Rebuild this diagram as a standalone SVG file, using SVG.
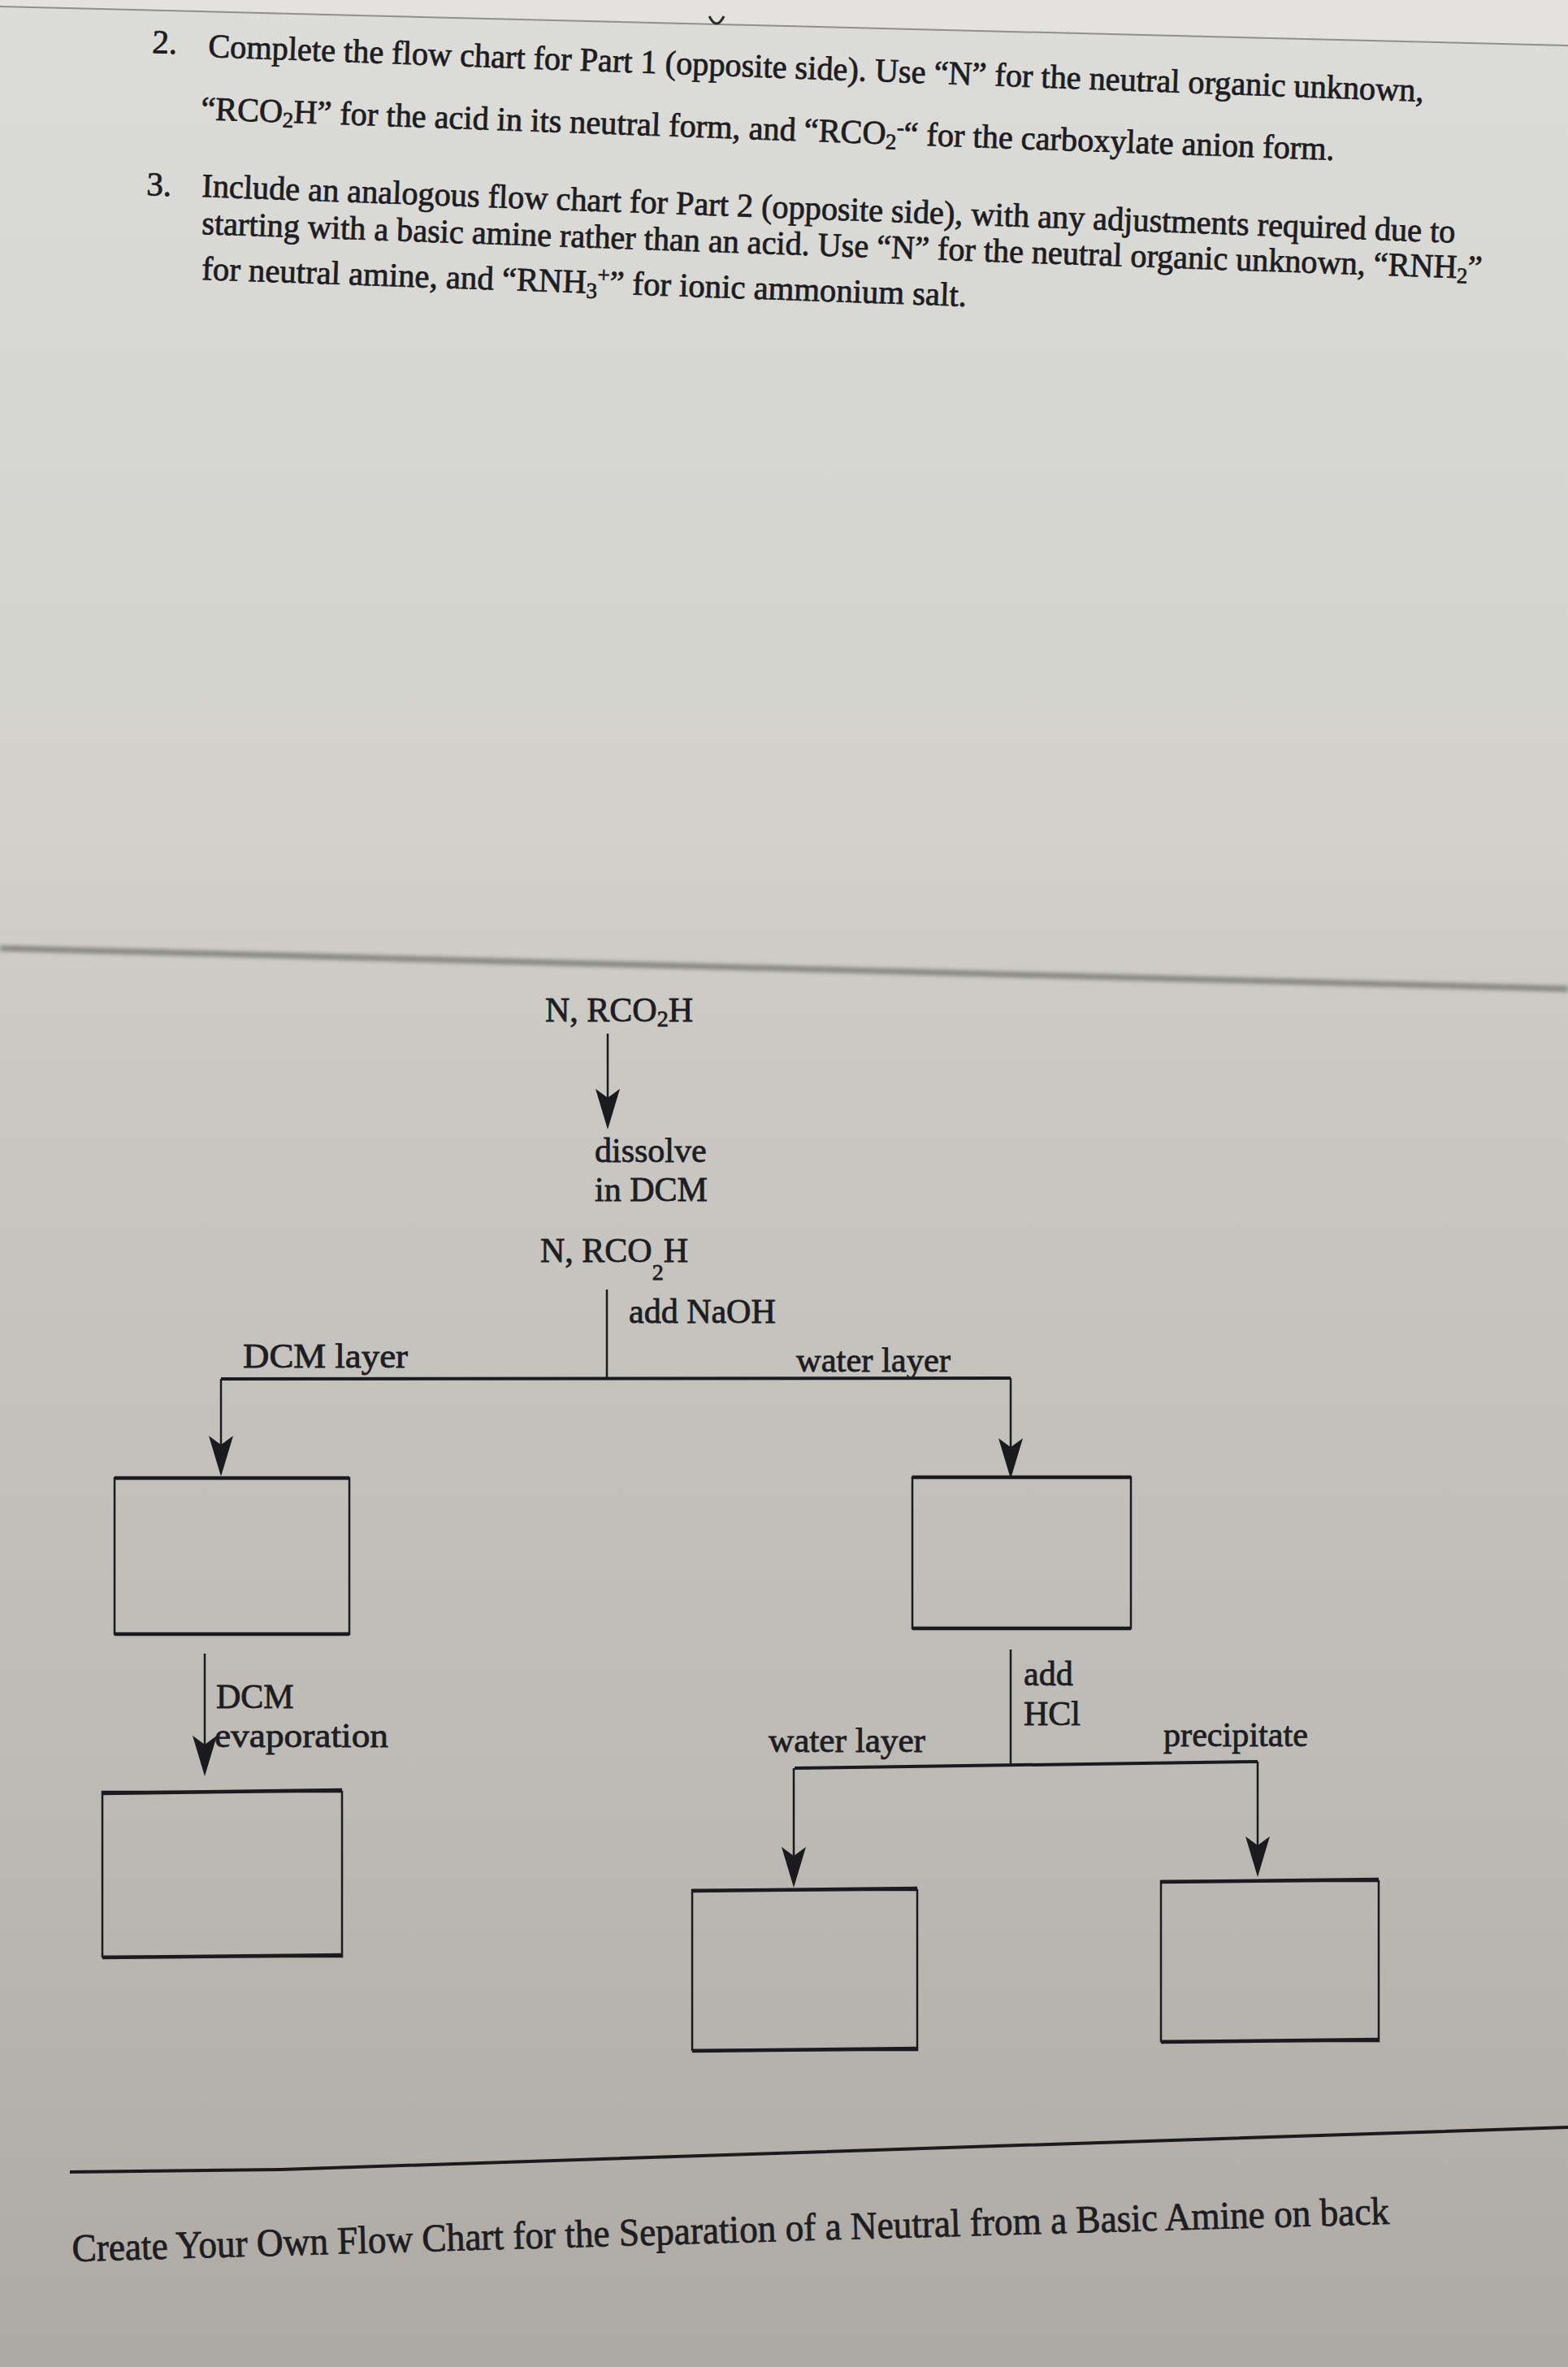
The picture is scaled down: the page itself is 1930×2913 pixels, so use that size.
<svg xmlns="http://www.w3.org/2000/svg" width="1930" height="2913" viewBox="0 0 1930 2913">
  <defs>
    <linearGradient id="paper" x1="0" y1="0" x2="0" y2="1">
      <stop offset="0" stop-color="#dcdcd8"/>
      <stop offset="0.35" stop-color="#d2d1cc"/>
      <stop offset="0.45" stop-color="#c9c8c3"/>
      <stop offset="0.75" stop-color="#bdbbb5"/>
      <stop offset="1" stop-color="#adaaa3"/>
    </linearGradient>
    <filter id="blur" x="-5%" y="-200%" width="110%" height="500%">
      <feGaussianBlur stdDeviation="2.5"/>
    </filter>
    <marker id="ah" viewBox="0 0 50 30" refX="30" refY="15" markerWidth="50" markerHeight="30" markerUnits="userSpaceOnUse" orient="auto">
      <path d="M0,0 L50,15 L0,30 L11,15 Z" fill="#1b1b1f"/>
    </marker>
    <style>
      .t { font-family: "Liberation Serif", "Times New Roman", serif; fill: #1d1d22; stroke: #1d1d22; stroke-width: 0.8; }
      .top { font-size: 41px; }
      .lbl { font-size: 42px; }
      .bot { font-size: 48px; }
      .box { fill: none; stroke: #1b1b1f; stroke-width: 2.5; }
      .edge { fill: none; stroke: #1b1b1f; stroke-width: 4.5; }
      .conn { fill: none; stroke: #1b1b1f; stroke-width: 2.5; }
      .bar { fill: none; stroke: #1b1b1f; stroke-width: 4; }
    </style>
  </defs>

  <!-- paper -->
  <rect x="0" y="0" width="1930" height="2913" fill="url(#paper)"/>
  <polygon points="0,0 1930,0 1930,56 0,8" fill="#e3e2df"/>
  <line x1="0" y1="8" x2="1930" y2="56" stroke="#8f8f8c" stroke-width="2"/>
  <path d="M873,20 Q882,38 891,20" fill="none" stroke="#2a2a2e" stroke-width="3"/>
  <path d="M0,1167 L1930,1217" stroke="#85847f" stroke-width="7" fill="none" filter="url(#blur)"/>

  <!-- instructions -->
  <g id="instructions">
    <text class="t top" x="187" y="65" transform="rotate(2.1 187 65)">2.</text>
    <text class="t top" x="256" y="70" transform="rotate(2.1 256 70)" textLength="1497" lengthAdjust="spacingAndGlyphs">Complete the flow chart for Part 1 (opposite side).  Use “N” for the neutral organic unknown,</text>
    <text class="t top" x="247" y="147" transform="rotate(2.05 247 147)" textLength="1396" lengthAdjust="spacingAndGlyphs">“RCO<tspan font-size="27" dy="6">2</tspan><tspan dy="-6">H” for the acid in its neutral form, and “RCO</tspan><tspan font-size="27" dy="6">2</tspan><tspan font-size="27" dy="-18">-</tspan><tspan dy="12">“ for the carboxylate anion form.</tspan></text>
    <text class="t top" x="180" y="240" transform="rotate(2.1 180 240)">3.</text>
    <text class="t top" x="248" y="242" transform="rotate(2.1 248 242)" textLength="1544" lengthAdjust="spacingAndGlyphs">Include an analogous flow chart for Part 2 (opposite side), with any adjustments required due to</text>
    <text class="t top" x="248" y="288" transform="rotate(2.0 248 288)" textLength="1577" lengthAdjust="spacingAndGlyphs">starting with a basic amine rather than an acid.  Use “N” for the neutral organic unknown, “RNH<tspan font-size="27" dy="6">2</tspan><tspan dy="-6">”</tspan></text>
    <text class="t top" x="248" y="344" transform="rotate(2.0 248 344)" textLength="942" lengthAdjust="spacingAndGlyphs">for neutral amine, and “RNH<tspan font-size="27" dy="6">3</tspan><tspan font-size="27" dy="-20">+</tspan><tspan dy="14">” for ionic ammonium salt.</tspan></text>
  </g>

  <!-- connectors -->
  <g id="connectors">
    <line class="conn" x1="748" y1="1272" x2="748" y2="1370" marker-end="url(#ah)"/>
    <line class="conn" x1="747" y1="1587" x2="747" y2="1697"/>
    <line class="bar" x1="272" y1="1697" x2="1244" y2="1696"/>
    <line class="conn" x1="272" y1="1697" x2="272" y2="1797" marker-end="url(#ah)"/>
    <line class="conn" x1="1244" y1="1696" x2="1244" y2="1800" marker-end="url(#ah)"/>
    <line class="conn" x1="252" y1="2035" x2="252" y2="2166" marker-end="url(#ah)"/>
    <line class="conn" x1="1244" y1="2030" x2="1244" y2="2173"/>
    <line class="bar" x1="978" y1="2176" x2="1548" y2="2168"/>
    <line class="conn" x1="977" y1="2176" x2="977" y2="2303" marker-end="url(#ah)"/>
    <line class="conn" x1="1548" y1="2168" x2="1548" y2="2290" marker-end="url(#ah)"/>
  </g>

  <!-- nodes -->
  <g id="start">
    <text class="t lbl" x="671" y="1257">N, RCO<tspan font-size="28" dy="6">2</tspan><tspan dy="-6">H</tspan></text>
  </g>
  <g id="label-dissolve">
    <text class="t lbl" x="732" y="1430">dissolve</text>
    <text class="t lbl" x="732" y="1478">in DCM</text>
  </g>
  <g id="mixture">
    <text class="t lbl" x="665" y="1553">N, RCO<tspan font-size="28" dy="22">2</tspan><tspan dy="-22">H</tspan></text>
  </g>
  <g id="label-naoh">
    <text class="t lbl" x="774" y="1628">add NaOH</text>
  </g>
  <g id="label-dcm-layer">
    <text class="t lbl" x="299" y="1683" textLength="203" lengthAdjust="spacingAndGlyphs">DCM layer</text>
  </g>
  <g id="label-water-layer-1">
    <text class="t lbl" x="980" y="1688" textLength="190" lengthAdjust="spacingAndGlyphs">water layer</text>
  </g>
  <g id="box-dcm">
    <rect class="box" x="141" y="1819" width="289" height="192"/>
    <line class="edge" x1="141" y1="1819" x2="430" y2="1819"/>
    <line class="edge" x1="141" y1="2011" x2="430" y2="2011"/>
  </g>
  <g id="box-water">
    <rect class="box" x="1123" y="1818" width="269" height="186"/>
    <line class="edge" x1="1123" y1="1818" x2="1392" y2="1818"/>
    <line class="edge" x1="1123" y1="2004" x2="1392" y2="2004"/>
  </g>
  <g id="label-evaporation">
    <text class="t lbl" x="266" y="2102">DCM</text>
    <text class="t lbl" x="264" y="2150" textLength="214" lengthAdjust="spacingAndGlyphs">evaporation</text>
  </g>
  <g id="label-hcl">
    <text class="t lbl" x="1260" y="2074">add</text>
    <text class="t lbl" x="1260" y="2123">HCl</text>
  </g>
  <g id="label-water-layer-2">
    <text class="t lbl" x="946" y="2156" textLength="193" lengthAdjust="spacingAndGlyphs">water layer</text>
  </g>
  <g id="label-precipitate">
    <text class="t lbl" x="1432" y="2149" textLength="178" lengthAdjust="spacingAndGlyphs">precipitate</text>
  </g>
  <g id="box-evaporated">
    <rect class="box" x="126" y="2205" width="295" height="203"/>
    <line class="edge" x1="126" y1="2207" x2="421" y2="2203"/>
    <line class="edge" x1="126" y1="2409" x2="421" y2="2406"/>
  </g>
  <g id="box-water-2">
    <rect class="box" x="852" y="2326" width="277" height="197"/>
    <line class="edge" x1="852" y1="2327" x2="1129" y2="2324"/>
    <line class="edge" x1="852" y1="2524" x2="1129" y2="2521"/>
  </g>
  <g id="box-precipitate">
    <rect class="box" x="1429" y="2315" width="268" height="197"/>
    <line class="edge" x1="1429" y1="2316" x2="1697" y2="2313"/>
    <line class="edge" x1="1429" y1="2513" x2="1697" y2="2510"/>
  </g>

  <!-- footer -->
  <polyline points="86,2673 345,2670 1930,2618" fill="none" stroke="#1b1b1f" stroke-width="4"/>
  <g id="footer">
    <text class="t bot" x="89" y="2783" transform="rotate(-1.63 89 2783)" textLength="1622" lengthAdjust="spacingAndGlyphs">Create Your Own Flow Chart for the Separation of a Neutral from a Basic Amine on back</text>
  </g>
</svg>
